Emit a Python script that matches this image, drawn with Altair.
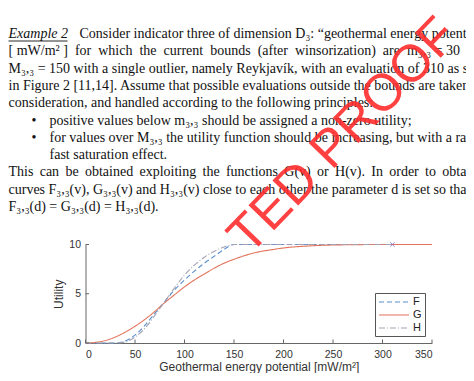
import altair as alt
import pandas as pd

# ---------------- data ----------------
F_v = [0, 30, 40, 50, 60, 70, 80, 90, 100, 110, 120, 130, 140, 150, 310]
F_u = [0, 0, 0.2, 0.8, 1.8, 3.0, 4.2, 5.4, 6.4, 7.3, 8.1, 8.8, 9.5, 10, 10]

G_v = [0, 10, 20, 30, 40, 50, 60, 70, 80, 90, 100, 110, 120, 130, 140, 150,
       160, 175, 190, 200, 225, 250, 300, 350]
G_u = [0, 0.06, 0.25, 0.6, 1.1, 1.7, 2.4, 3.2, 4.1, 4.9, 5.7, 6.4, 7.0, 7.6,
       8.1, 8.5, 8.85, 9.25, 9.5, 9.65, 9.85, 9.95, 10, 10]

H_v = [0, 30, 40, 50, 60, 70, 80, 90, 100, 110, 120, 130, 140, 150, 310]
H_u = [0, 0, 0.1, 0.6, 1.5, 2.8, 4.2, 5.6, 6.9, 7.9, 8.7, 9.3, 9.75, 10, 10]

outlier_v = [310]
outlier_u = [10]

series_names = ["F", "G", "H"]
series_colors = ["#5b8fce", "#e2735a", "#a3a3b3"]
series_dash = [[5, 3], [1, 0], [6, 2, 1, 2]]

x_ticks = [0, 50, 100, 150, 200, 250, 300, 350]
y_ticks = [0, 5, 10]

x_title = "Geothermal energy potential [mW/m²]"
y_title = "Utility"

SP = "\u00a0 "
doc_first = "Example 2"
doc_lines = [
    "Consider indicator three of dimension D₃: “geothermal energy potential”",
    SP.join(["[ mW/m² ]", "for", "which", "the", "current", "bounds", "(after",
             "winsorization)", "are", "m₃,₃ = 30", "and"]),
    "M₃,₃ = 150 with a single outlier, namely Reykjavík, with an evaluation of 310 as shown",
    "in Figure 2 [11,14]. Assume that possible evaluations outside the bounds are taken into",
    "consideration, and handled according to the following principles:",
    "positive values below m₃,₃ should be assigned a non-zero utility;",
    "for values over M₃,₃ the utility function should be increasing, but with a rather",
    "fast saturation effect.",
    "This\u2009 can\u2009 be\u2009 obtained\u2009 exploiting\u2009 the\u2009 functions\u2009 G(v)\u2009 or\u2009 H(v).\u2009 In\u2009 order\u2009 to\u2009 obtain\u2009 the",
    "curves F₃,₃(v), G₃,₃(v) and H₃,₃(v) close to each other the parameter d is set so that",
    "F₃,₃(d) = G₃,₃(d) = H₃,₃(d).",
]
bullet_lines = [5, 6]
watermark = "TED PROOF"

# ---------------- layout ----------------
W, HGT = 346.5, 98.5
OX, OY = 85.5, 244.5          # page position of plot origin
PAD = {"left": OX - 8, "top": OY - 8,
       "right": 458 - (OX - 8) - W, "bottom": 365 - (OY - 8) - HGT}
TXT_LEFT = 8.5
TXT_Y0 = 34
TXT_GAP = 17.3
doc_indent = [71, 0, 0, 0, 0, 41, 41, 41, 0, 0, 0]
BULLET_INDENT = 23

# ---------------- frames ----------------
rows = []
for name, vs, us in zip(series_names, [F_v, G_v, H_v], [F_u, G_u, H_u]):
    for i, (v, u) in enumerate(zip(vs, us)):
        rows.append({"s": name, "v": v, "u": u, "o": i})
curves = pd.DataFrame(rows)

xs = alt.Scale(domain=[0, 350], nice=False, zero=False)
ys = alt.Scale(domain=[0, 10], nice=False)

lines = alt.Chart(curves).mark_line(strokeWidth=1.1, interpolate="monotone").encode(
    x=alt.X("v:Q", scale=xs,
            axis=alt.Axis(values=x_ticks, ticks=False, grid=False, title=x_title,
                          labelFontSize=10.5, labelPadding=6, labelColor="#333",
                          titleFontSize=12, titleFontWeight="normal", titleColor="#333",
                          titleBaseline="alphabetic", titleY=27,
                          domainColor="#666", labelFont="Liberation Sans",
                          titleFont="Liberation Sans")),
    y=alt.Y("u:Q", scale=ys,
            axis=alt.Axis(values=y_ticks, ticks=False, grid=False, title=y_title,
                          labelFontSize=10.5, labelPadding=5, labelColor="#333",
                          titleFontSize=12, titleFontWeight="normal", titleColor="#333",
                          titleX=-27.5, titleY=HGT / 2, titleAngle=270,
                          titleBaseline="middle", titleAlign="center",
                          domainColor="#666", labelFont="Liberation Sans",
                          titleFont="Liberation Sans")),
    color=alt.Color("s:N", scale=alt.Scale(domain=series_names, range=series_colors),
                    title=None,
                    legend=alt.Legend(orient="none", legendX=289.5, legendY=48.5,
                                      symbolType="M-3,0L3,0", symbolSize=100,
                                      symbolOffset=10,
                                      symbolStrokeWidth=1.1, labelFontSize=11,
                                      labelFont="Liberation Sans", labelColor="#222",
                                      labelOffset=13, padding=3, rowPadding=2,
                                      strokeColor="#555", fillColor="white",
                                      cornerRadius=0)),
    strokeDash=alt.StrokeDash("s:N", scale=alt.Scale(domain=series_names, range=series_dash),
                              title=None),
    order="o:Q",
)

outlier = alt.Chart(pd.DataFrame({"v": outlier_v, "u": outlier_u})).mark_point(
    shape="M-1,-1L1,1M1,-1L-1,1", size=20, strokeWidth=1, filled=False, color="#6a5fc8"
).encode(x=alt.X("v:Q", scale=xs), y=alt.Y("u:Q", scale=ys))

xt = alt.Chart(pd.DataFrame({"t": x_ticks})).mark_rule(color="#666", strokeWidth=1).encode(
    x=alt.X("t:Q", scale=xs), y=alt.value(HGT), y2=alt.value(HGT - 3.5))
yt = alt.Chart(pd.DataFrame({"t": y_ticks})).mark_rule(color="#666", strokeWidth=1).encode(
    y=alt.Y("t:Q", scale=ys), x=alt.value(0), x2=alt.value(3.5))

# document text
trows = []
for i, t in enumerate(doc_lines):
    trows.append({"t": t, "px": TXT_LEFT + doc_indent[i] - OX,
                  "py": TXT_Y0 + i * TXT_GAP - OY})
for i in bullet_lines:
    trows.append({"t": "•", "px": TXT_LEFT + BULLET_INDENT - OX,
                  "py": TXT_Y0 + i * TXT_GAP - OY})
tdf = pd.DataFrame(trows)
doc = alt.Chart(tdf).mark_text(font="Liberation Serif", fontSize=14, align="left",
                               baseline="middle", color="#111").encode(
    x=alt.X("px:Q", scale=None), y=alt.Y("py:Q", scale=None), text="t:N")

first = alt.Chart(pd.DataFrame({"t": [doc_first]})).mark_text(
    font="Liberation Serif", fontSize=14, fontStyle="italic", align="left",
    baseline="middle", color="#111").encode(
    x=alt.value(TXT_LEFT - OX), y=alt.value(TXT_Y0 - OY), text="t:N")
underline = alt.Chart(pd.DataFrame({"t": [doc_first]})).mark_rule(color="#111", strokeWidth=0.9).encode(
    x=alt.value(TXT_LEFT - OX), x2=alt.value(TXT_LEFT + 59 - OX),
    y=alt.value(TXT_Y0 + 7 - OY))

wm = alt.Chart(pd.DataFrame({"t": [watermark]})).mark_text(
    font="Liberation Sans", fontSize=52, angle=314, align="center", baseline="middle",
    color="#ff2d2d", opacity=0.9).encode(
    x=alt.value(343 - OX), y=alt.value(136 - OY), text="t:N")

chart = alt.layer(lines, outlier, xt, yt, doc, first, underline, wm).properties(
    width=W, height=HGT, padding=PAD,
    autosize=alt.AutoSizeParams(type="none"),
    background="white",
).configure_view(stroke=None)

chart.save("out.html", embed_options={"renderer": "svg", "actions": False})
